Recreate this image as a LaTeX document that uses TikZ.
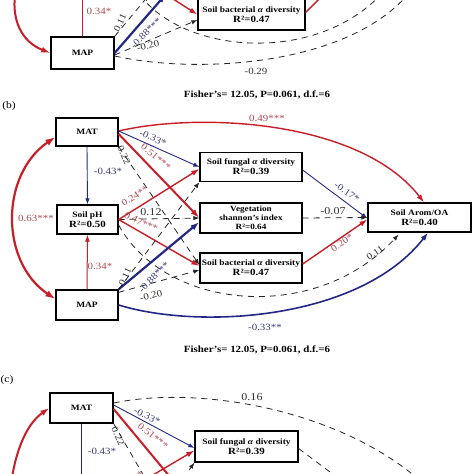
\documentclass[tikz,border=0pt]{standalone}
\usepackage{fontspec}
\setmainfont{Liberation Serif}[FakeStretch=1.15]
\usetikzlibrary{arrows.meta}
\definecolor{lred}{RGB}{200,30,40}
\definecolor{lblue}{RGB}{35,40,135}
\definecolor{tred}{RGB}{175,75,85}
\definecolor{tblue}{RGB}{60,60,125}
\definecolor{tgray}{RGB}{50,50,50}
\newcommand{\rline}{\fontsize{9.5}{10}\selectfont}
\tikzset{
  box/.style={draw=black, line width=1.3pt, fill=white, align=center, inner sep=0pt,
    font=\fontsize{8.2}{10}\selectfont\bfseries},
  rthick/.style={draw=lred, line width=2pt, -{Latex[length=9pt,width=6pt]}},
  rmid/.style={draw=lred, line width=1.4pt, -{Latex[length=8pt,width=5.5pt]}},
  rthin/.style={draw=lred, line width=1pt, -{Latex[length=7pt,width=5pt]}},
  rdbl/.style={draw=lred, line width=2.2pt, {Latex[length=10pt,width=7pt]}-{Latex[length=10pt,width=7pt]}},
  bthin/.style={draw=lblue, line width=0.9pt, -{Latex[length=6pt,width=4.5pt]}},
  bmid/.style={draw=lblue, line width=1.6pt, -{Latex[length=8pt,width=5.5pt]}},
  bthick/.style={draw=lblue, line width=2.2pt, -{Latex[length=9pt,width=6pt]}},
  dsh/.style={draw=black!85, line width=0.8pt, dash pattern=on 6pt off 5pt, -{Latex[length=6pt,width=4.5pt]}},
  lab/.style={inner sep=0pt, font=\fontsize{9.5}{10}\selectfont},
  labbig/.style={inner sep=0pt, font=\fontsize{10.5}{11}\selectfont},
  fisher/.style={inner sep=0pt, font=\fontsize{9.5}{11}\selectfont\bfseries},
  panel/.style={inner sep=0pt, font=\fontsize{10}{11}\selectfont},
}
\begin{document}
\begin{tikzpicture}[x=1pt,y=-1pt]
\useasboundingbox (0,0) rectangle (474,474);
\fill[white] (0,0) rectangle (474,474);
\clip (0,0) rectangle (474,474);

% ---------------- panel (a) fragment ----------------
\node[box, minimum width=63pt, minimum height=32pt] (mapA) at (82.5,53) {MAP};
\node[box, minimum width=107pt, minimum height=31pt] (bacA) at (251.5,14.5) {Soil bacterial {\itshape α} diversity\\{\rline R²=0.47}};
\coordinate (aL) at (16,-12);
\coordinate (pA) at (82.5,-12);
\coordinate (vA) at (166,-6);
\coordinate (fA) at (149,-5);
\coordinate (uA0) at (140,-5);
\coordinate (uA1) at (385,-10);
\coordinate (lA) at (410,-8);
\coordinate (rA) at (170,-3);
\coordinate (rB) at (322,-4);
\draw[rthick] (aL) .. controls (10,20) and (22,42) .. (mapA.west);
\draw[rthin] (mapA.north) -- (pA);
\draw[bthick] (mapA.east) -- (vA);
\draw[dsh] (mapA.north east) -- (fA);
\draw[dsh] ([yshift=-2pt]mapA.east) -- ([yshift=-5.5pt]bacA.west);
\draw[dsh,-] (uA0) .. controls (185,55) and (320,65) .. (uA1);
\draw[dsh,-] ([yshift=-3pt]mapA.east) .. controls (200,75) and (350,65) .. (lA);
\draw[rmid] (rA) -- (bacA.west);
\draw[rmid,-] ([yshift=2pt]bacA.east) -- (rB);
\node[lab,tred] (a34) at (99,11) {0.34*};
\node[lab,tgray,rotate=65] (a11) at (120,23) {0.11};
\node[lab,tblue,rotate=45] (a88) at (146,33) {-0.88***};
\node[lab,tgray,rotate=15] (a20) at (148,46) {-0.20};
\node[lab,tgray] (a29) at (256,71) {-0.29};
\node[fisher] (fa) at (257,95) {Fisher's= 12.05, P=0.061, d.f.=6};

% ---------------- panel (b) ----------------
\node[panel] (pb) at (9,106) {(b)};
\node[box, minimum width=62pt, minimum height=28pt] (matB) at (87,132) {MAT};
\node[box, minimum width=61pt, minimum height=29pt] (phB) at (87.5,219.5) {Soil pH\\{\rline R²=0.50}};
\node[box, minimum width=62pt, minimum height=30pt] (mapB) at (87,305) {MAP};
\node[box, minimum width=102pt, minimum height=29pt] (funB) at (251,167) {Soil fungal {\itshape α} diversity\\{\rline R²=0.39}};
\node[box, minimum width=102pt, minimum height=30pt, font=\fontsize{8}{8.8}\selectfont\bfseries] (vegB) at (251,218) {Vegetation\\shannon's index\\R²=0.64};
\node[box, minimum width=102pt, minimum height=30pt] (bacB) at (251,268) {Soil bacterial {\itshape α} diversity\\{\rline R²=0.47}};
\node[box, minimum width=103pt, minimum height=29pt] (aroB) at (419.5,217.5) {Soil Arom/OA\\{\rline R²=0.40}};

\draw[rmid] ([yshift=1pt]matB.east) .. controls (200,112) and (360,120) .. ([xshift=4.5pt]aroB.north);
\draw[bthin] ([yshift=1pt]matB.east) -- (funB.west);
\draw[rthick] ([yshift=-2pt]matB.east) -- (vegB.west);
\draw[bthin] (matB.south) -- (phB.north);
\draw[dsh] (matB.south east) -- ([yshift=3pt]bacB.west);
\draw[dsh] (phB.east) -- (vegB.west);
\draw[rmid] (phB.east) -- ([yshift=-2pt]funB.west);
\draw[rmid] (phB.east) -- ([yshift=2pt]bacB.west);
\draw[dsh] ([yshift=-5.5pt]phB.east) .. controls (165,310) and (315,325) .. ([xshift=-21pt,yshift=-2pt]aroB.south);
\draw[bthick] (mapB.north east) -- ([yshift=-4pt]vegB.west);
\draw[dsh] (mapB.north east) -- (funB.south west);
\draw[dsh] ([yshift=-3pt]mapB.north east) -- ([yshift=-2pt]bacB.west);
\draw[bmid] (mapB.east) .. controls (200,330) and (360,320) .. ([xshift=8.5pt]aroB.south);
\draw[rdbl] ([yshift=-5pt]matB.west) .. controls (0,175) and (0,262) .. ([yshift=6pt]mapB.west);
\draw[rthin] (mapB.north) -- (phB.south);
\draw[bthin] ([yshift=-3pt]funB.east) -- ([yshift=-1pt]aroB.west);
\draw[dsh] (vegB.east) -- (aroB.west);
\draw[rmid] ([yshift=4pt]bacB.east) -- ([yshift=-2pt]aroB.west);

\node[lab,tred] (b49) at (267,118) {0.49***};
\node[lab,tblue,rotate=-24] (b33a) at (153,138) {-0.33*};
\node[lab,tred,rotate=-40] (b51) at (156,157) {0.51***};
\node[lab,tblue] (b43) at (108,171) {-0.43*};
\node[lab,tgray,rotate=-65] (b22) at (124,155) {0.22};
\node[labbig,tgray] (b12) at (151,212) {0.12};
\node[lab,tred,rotate=32] (b24) at (135,196) {0.24**};
\node[lab,tred,rotate=-25] (b47) at (141,222) {0.47***};
\node[lab,tred] (b34) at (100,266) {0.34*};
\node[lab,tred] (b63) at (36,218) {0.63***};
\node[lab,tgray,rotate=65] (b11a) at (125,277) {0.11};
\node[lab,tblue,rotate=45] (b88) at (154,277) {-0.88***};
\node[lab,tgray,rotate=15] (b20) at (151,296) {-0.20};
\node[lab,tblue] (b33b) at (265,327) {-0.33**};
\node[lab,tblue,rotate=-35] (b17) at (347,192) {-0.17*};
\node[labbig,tgray] (b07) at (333,211) {-0.07};
\node[lab,tred,rotate=35] (b20b) at (342,243) {0.20*};
\node[lab,tgray,rotate=35] (b11b) at (375,253) {0.11};
\node[fisher] (fb) at (257,350) {Fisher's= 12.05, P=0.061, d.f.=6};

% ---------------- panel (c) fragment ----------------
\node[panel] (pc) at (7,380) {(c)};
\node[box, minimum width=63pt, minimum height=30pt] (matC) at (81.5,408) {MAT};
\node[box, minimum width=103pt, minimum height=31pt] (funC) at (246.5,446.5) {Soil fungal {\itshape α} diversity\\{\rline R²=0.39}};
\coordinate (pC) at (81.5,492);
\coordinate (vC) at (185,495);
\coordinate (phC) at (131,488);
\coordinate (bC) at (152,490);
\coordinate (mC) at (170,497);
\coordinate (aC) at (425,485);
\coordinate (fC) at (350,487);
\coordinate (lC) at (10,492);
\draw[bthin] (matC.south) -- (pC);
\draw[bthin] ([yshift=3pt]matC.east) -- ([yshift=-1.5pt]funC.west);
\draw[rthick] ([yshift=-1pt]matC.east) -- (vC);
\draw[rmid] (phC) -- ([yshift=-4pt]funC.west);
\draw[dsh] (matC.south east) -- (bC);
\draw[dsh] (mC) -- (funC.south west);
\draw[dsh] ([yshift=5pt]matC.east) .. controls (200,385) and (340,410) .. (aC);
\draw[dsh] ([yshift=-2pt]funC.east) -- (fC);
\draw[rthick] (lC) .. controls (14,455) and (25,425) .. (matC.west);
\node[lab,tblue] (c43) at (102,451) {-0.43*};
\node[lab,tblue,rotate=-27] (c33) at (147,416) {-0.33*};
\node[lab,tred,rotate=-38] (c51) at (153,436) {0.51***};
\node[lab,tgray,rotate=-65] (c22) at (118,436) {0.22};
\node[labbig,tgray] (c16) at (252,397) {0.16};
\node[lab,tred,rotate=32] (c24) at (130,481) {0.24**};
\end{tikzpicture}
\end{document}
